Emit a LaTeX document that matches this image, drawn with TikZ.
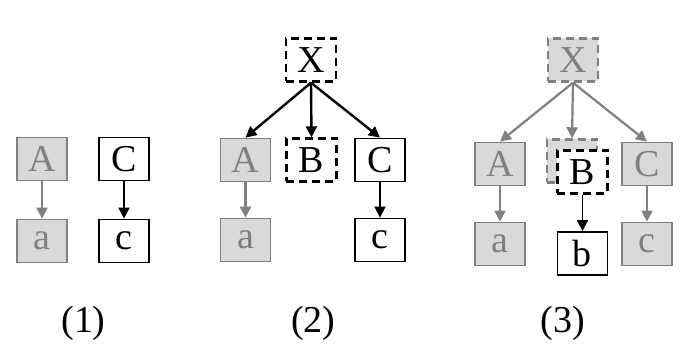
\documentclass[tikz,border=0pt]{standalone}
\usepackage{fontspec}
\setmainfont{Liberation Serif}
\usetikzlibrary{arrows.meta}
\definecolor{boxgray}{RGB}{217,217,217}
\definecolor{linegray}{RGB}{128,128,128}

\begin{document}
\begin{tikzpicture}[
  x=0.5pt, y=-0.5pt,
  every node/.style={font=\fontsize{19}{22}\selectfont},
  kept/.style  ={draw, line width=0.9pt, fill=white, minimum width=25pt,
                 minimum height=21.5pt, inner sep=0pt},
  old/.style   ={draw=linegray, line width=0.9pt, fill=boxgray, text=linegray,
                 minimum width=25pt, minimum height=21.5pt, inner sep=0pt},
  new/.style   ={kept, dashed, dash pattern=on 4pt off 2.5pt, line width=1.2pt},
  oldnew/.style={old, dashed, dash pattern=on 4pt off 2.5pt, line width=1.2pt},
  arr/.style   ={-{Triangle[length=5.5pt,width=5.5pt]}, line width=0.9pt},
  garr/.style  ={arr, draw=linegray, fill=linegray, line width=1.1pt}]

\useasboundingbox (0,0) rectangle (693,363);

%% (1) two separate trees
\node[old]  (A1) at (42,159)  {A};
\node[old]  (a1) at (42,241)  {a};
\node[kept] (C1) at (124,159) {C};
\node[kept] (c1) at (124,241) {c};
\draw[garr] (A1) -- (a1);
\draw[arr]  (C1) -- (c1);

%% (2) new root X with new child B
\node[new]  (X2) at (311,60)    {X};
\node[old]  (A2) at (245.5,160) {A};
\node[new]  (B2) at (311.5,160) {B};
\node[kept] (C2) at (380,160)   {C};
\node[old]  (a2) at (245.5,240) {a};
\node[kept] (c2) at (380,240)   {c};
\draw[arr, line width=1.2pt] (X2.south) -- (A2.north);
\draw[arr, line width=1.2pt] (X2.south) -- (B2.north);
\draw[arr, line width=1.2pt] (X2.south) -- (C2.north);
\draw[garr] (A2) -- (a2);
\draw[arr]  (C2) -- (c2);

%% (3) B gets its own child b
\node[oldnew] (X3)  at (573,60)  {X};
\node[old]    (A3)  at (500,164) {A};
\node[oldnew] (Bg3) at (572,161) {};
\node[old]    (C3)  at (647,164) {C};
\node[new]    (B3)  at (582.5,172) {B};
\node[old]    (a3)  at (500,244) {a};
\node[kept]   (b3)  at (582.5,253.5) {b};
\node[old]    (c3)  at (647,244) {c};
\draw[garr] (X3.south) -- (A3.north);
\draw[garr] (X3.south) -- (Bg3.north);
\draw[garr] (X3.south) -- (C3.north);
\draw[garr] (A3) -- (a3);
\draw[arr]  (B3) -- (b3);
\draw[garr] (C3) -- (c3);

\node (l1) at (83.5,323) {(1)};
\node (l2) at (313.5,323) {(2)};
\node (l3) at (563,323) {(3)};
\end{tikzpicture}
\end{document}
